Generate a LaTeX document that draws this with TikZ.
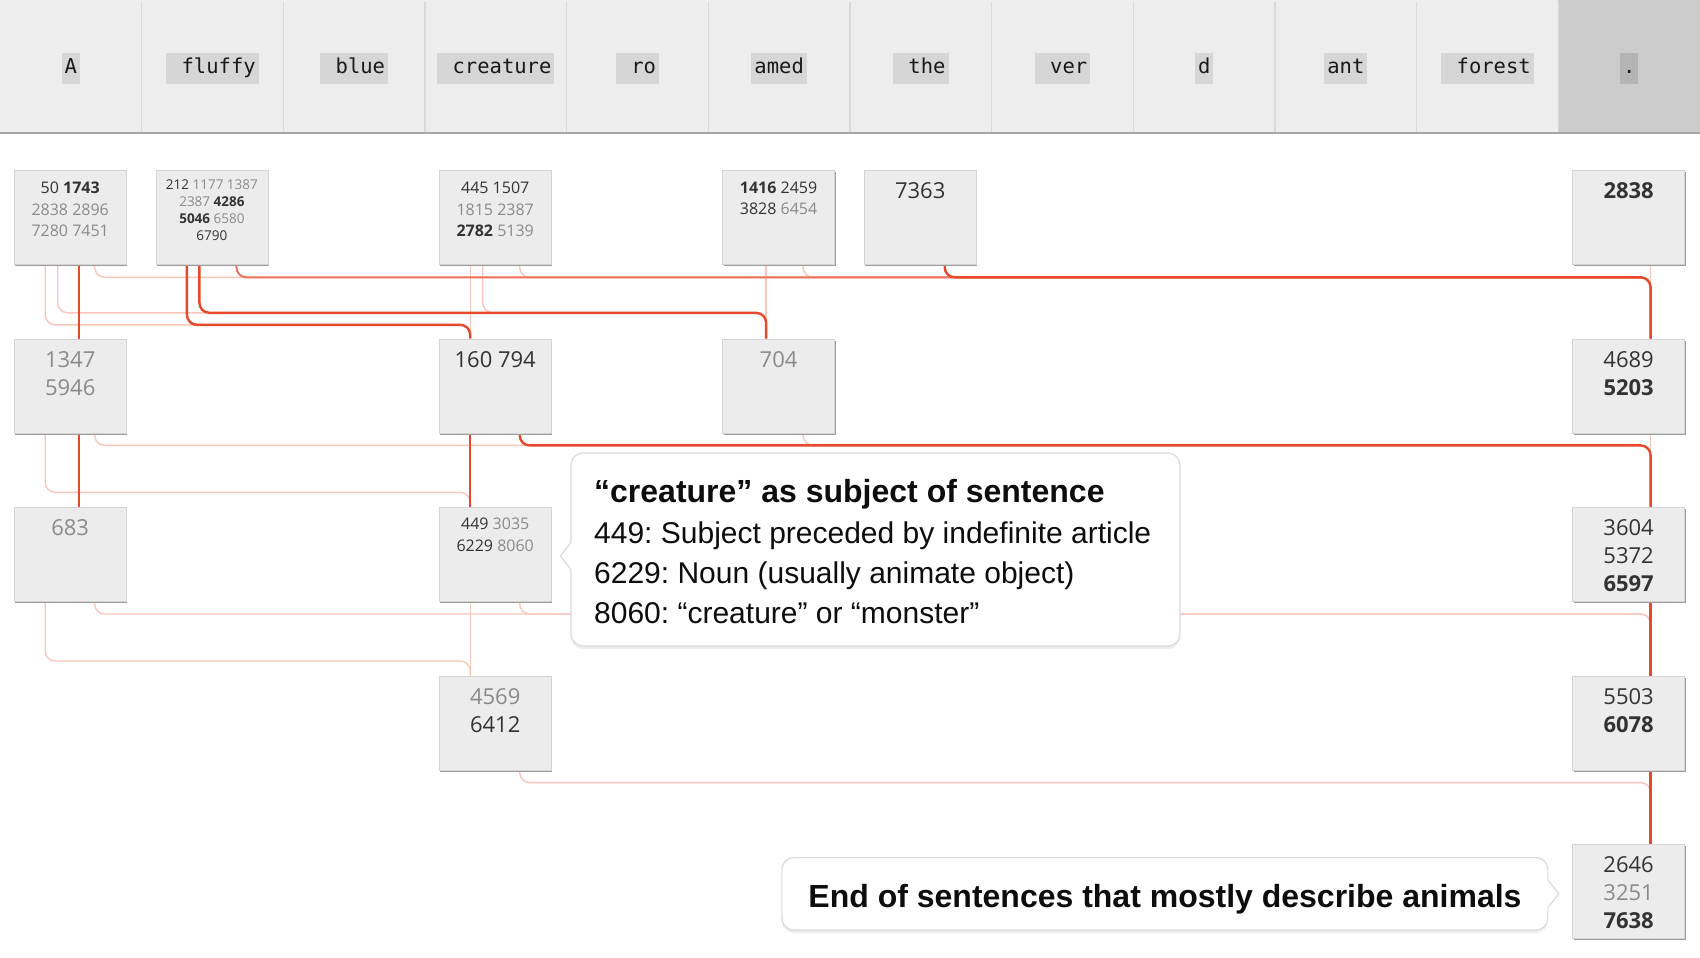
\documentclass[tikz,border=0pt]{standalone}
\usepackage{fontspec}
\setmainfont{Open Sans}
\newfontfamily\tokfont{DejaVu Sans Mono}
\newfontfamily\callfont{Liberation Sans}
\usetikzlibrary{calc,shadows}
\pgfdeclarelayer{bg}
\pgfsetlayers{bg,main}
\frenchspacing
\definecolor{hdrbg}{HTML}{EDEDED}
\definecolor{hdrlast}{HTML}{CCCCCC}
\definecolor{hdrline}{HTML}{D9D9D9}
\definecolor{hdrborder}{HTML}{A6A6A6}
\definecolor{tokbg}{HTML}{D6D6D6}
\definecolor{toklast}{HTML}{B4B4B4}
\definecolor{boxbg}{HTML}{ECECEC}
\definecolor{boxedge}{HTML}{D4D4D4}
\definecolor{boxshadow}{HTML}{9C9C9C}
\definecolor{numdark}{HTML}{333333}
\definecolor{numlight}{HTML}{8A8A8A}
\definecolor{strongc}{HTML}{E8492D}
\definecolor{medc}{HTML}{EE7259}
\definecolor{faintc}{HTML}{F8C6BB}
\definecolor{calledge}{HTML}{DADADA}
\newcommand\numL[1]{\textcolor{numlight}{#1}}
\newcommand\numB[1]{\textbf{#1}}
\begin{document}
\frenchspacing
\begin{tikzpicture}[x=1pt,y=-1pt,
  featbox/.style={rectangle, fill=boxbg, draw=boxedge, line width=0.8pt,
    minimum width=112pt, minimum height=94pt, inner sep=0pt, anchor=north,
    general shadow={fill=boxshadow, shadow xshift=1.2pt, shadow yshift=-1.6pt}},
  numbig/.style={anchor=north, inner sep=0pt, align=center, text=numdark,
    font=\fontsize{22}{28}\selectfont},
  nummed/.style={anchor=north, inner sep=0pt, align=center, text=numdark,
    font=\fontsize{16}{21.7}\selectfont},
  numsmall/.style={anchor=north, inner sep=0pt, align=center, text=numdark,
    font=\fontsize{13.5}{17}\selectfont},
  tok/.style={fill=tokbg, inner xsep=3pt, inner ysep=0pt, minimum height=30pt,
    text height=15.5pt, text depth=5pt, text=black!90,
    font=\tokfont\fontsize{20.5}{24}\selectfont},
  faint/.style={draw=faintc, line width=1.4pt, rounded corners=10pt},
  medium/.style={draw=medc, line width=1.9pt, rounded corners=10pt},
  strong/.style={draw=strongc, line width=2.4pt, rounded corners=10pt},
  callbox/.style={rectangle, fill=white, draw=calledge, line width=1.2pt,
    rounded corners=12pt, inner sep=0pt,
    general shadow={fill=black, fill opacity=0.07, shadow xshift=0pt, shadow yshift=-3pt}},
  calltitle/.style={inner sep=0pt, text=black!95, font=\callfont\bfseries\fontsize{32}{38}\selectfont},
  callline/.style={inner sep=0pt, text=black!95, font=\callfont\fontsize{30}{36}\selectfont},
]
\useasboundingbox (0,0) rectangle (1700,958);

% header
\begin{pgfonlayer}{bg}
\fill[white] (0,0) rectangle (1700,958);
\fill[hdrbg] (0,0) rectangle (1700,133);
\fill[hdrlast] (1558.33,0) rectangle (1700,133);
\foreach \k in {1,...,11} \draw[hdrline, line width=1.2pt] (141.667*\k,2) -- (141.667*\k,133);
\draw[hdrborder, line width=2pt] (0,133) -- (1700,133);
\end{pgfonlayer}

\node[tok] (t0) at (70.83,68.5) {A};
\node[tok] (t1) at (212.5,68.5) {\phantom{x}fluffy};
\node[tok] (t2) at (354.17,68.5) {\phantom{x}blue};
\node[tok] (t3) at (495.83,68.5) {\phantom{x}creature};
\node[tok] (t4) at (637.5,68.5) {\phantom{x}ro};
\node[tok] (t5) at (779.17,68.5) {amed};
\node[tok] (t6) at (920.83,68.5) {\phantom{x}the};
\node[tok] (t7) at (1062.5,68.5) {\phantom{x}ver};
\node[tok] (t8) at (1204.17,68.5) {d};
\node[tok] (t9) at (1345.83,68.5) {ant};
\node[tok] (t10) at (1487.5,68.5) {\phantom{x}forest};
\node[tok, fill=toklast] (t11) at (1629.17,68.5) {.};

% feature boxes
\node[featbox] (a0) at (70.2,170) {};
\node[featbox] (a1) at (211.9,170) {};
\node[featbox] (a3) at (495.2,170) {};
\node[featbox] (a5) at (778.6,170) {};
\node[featbox] (a6) at (920.2,170) {};
\node[featbox] (a11) at (1628.6,170) {};
\node[featbox] (b0) at (70.2,338.6) {};
\node[featbox] (b3) at (495.2,338.6) {};
\node[featbox] (b5) at (778.6,338.6) {};
\node[featbox] (b11) at (1628.6,338.6) {};
\node[featbox] (c0) at (70.2,507.2) {};
\node[featbox] (c3) at (495.2,507.2) {};
\node[featbox] (c11) at (1628.6,507.2) {};
\node[featbox] (d3) at (495.2,675.8) {};
\node[featbox] (d11) at (1628.6,675.8) {};
\node[featbox] (e11) at (1628.6,844.4) {};

% texts
\node[nummed] (a0t) at ($(a0.north)+(0,11.5)$) {50 \numB{1743}\\ \numL{2838 2896}\\ \numL{7280 7451}};
\node[numsmall] (a1t) at ($(a1.north)+(0,9.3)$) {212 \numL{1177 1387}\\ \numL{2387} \numB{4286}\\ \numB{5046} \numL{6580}\\ 6790};
\node[nummed] (a3t) at ($(a3.north)+(0,11.5)$) {445 1507\\ \numL{1815 2387}\\ \numB{2782} \numL{5139}};
\node[nummed] (a5t) at ($(a5.north)+(0,11.5)$) {\numB{1416} 2459\\ 3828 \numL{6454}};
\node[numbig] (a6t) at ($(a6.north)+(0,12.5)$) {7363};
\node[numbig] (a11t) at ($(a11.north)+(0,12.5)$) {\numB{2838}};
\node[numbig] (b0t) at ($(b0.north)+(0,12.5)$) {\numL{1347}\\ \numL{5946}};
\node[numbig] (b3t) at ($(b3.north)+(0,12.5)$) {160 794};
\node[numbig] (b5t) at ($(b5.north)+(0,12.5)$) {\numL{704}};
\node[numbig] (b11t) at ($(b11.north)+(0,12.5)$) {4689\\ \numB{5203}};
\node[numbig] (c0t) at ($(c0.north)+(0,12.5)$) {\numL{683}};
\node[nummed] (c3t) at ($(c3.north)+(0,10.8)$) {449 \numL{3035}\\ 6229 \numL{8060}};
\node[numbig] (c11t) at ($(c11.north)+(0,12.5)$) {3604\\ 5372\\ \numB{6597}};
\node[numbig] (d3t) at ($(d3.north)+(0,12.5)$) {\numL{4569}\\ 6412};
\node[numbig] (d11t) at ($(d11.north)+(0,12.5)$) {5503\\ \numB{6078}};
\node[numbig] (e11t) at ($(e11.north)+(0,12)$) {2646\\ \numL{3251}\\ \numB{7638}};

% connectors
\begin{pgfonlayer}{bg}
% faint
\draw[faint] ($(a0.south)+(-25,0)$) -- ++(0,60) -| ($(b3.north)+(-25,0)$);
\draw[faint] ($(a0.south)+(-12.5,0)$) -- ++(0,48) -| ($(b5.north)+(-12.5,0)$);
\draw[faint] ($(a0.south)+(24.5,0)$) -- ++(0,12.5) -| ($(b11.north)+(22,0)$);
\draw[faint] ($(a3.south)+(-25,0)$) -- ($(b3.north)+(-25,0)$);
\draw[faint] ($(a3.south)+(-12.5,0)$) -- ++(0,48) -| ($(b5.north)+(-12.5,0)$);
\draw[faint] ($(a3.south)+(24.5,0)$) -- ++(0,12.5) -| ($(b11.north)+(22,0)$);
\draw[faint] ($(a5.south)+(-12.5,0)$) -- ($(b5.north)+(-12.5,0)$);
\draw[faint] ($(a5.south)+(24.5,0)$) -- ++(0,12.5) -| ($(b11.north)+(22,0)$);
\draw[faint] ($(a11.south)+(22,0)$) -- ($(b11.north)+(22,0)$);
\draw[faint] ($(b0.south)+(-25,0)$) -- ++(0,59) -| ($(c3.north)+(-25,0)$);
\draw[faint] ($(b0.south)+(24.5,0)$) -- ++(0,12) -| ($(c11.north)+(22,0)$);
\draw[faint] ($(b5.south)+(24.5,0)$) -- ++(0,12) -| ($(c11.north)+(22,0)$);
\draw[faint] ($(b11.south)+(22,0)$) -- ($(c11.north)+(22,0)$);
\draw[faint] ($(c0.south)+(-25,0)$) -- ++(0,59) -| ($(d3.north)+(-25,0)$);
\draw[faint] ($(c0.south)+(24.5,0)$) -- ++(0,12) -| ($(d11.north)+(22,0)$);
\draw[faint] ($(c3.south)+(-25,0)$) -- ($(d3.north)+(-25,0)$);
\draw[faint] ($(c3.south)+(24.5,0)$) -- ++(0,12) -| ($(d11.north)+(22,0)$);
\draw[faint] ($(d3.south)+(24.5,0)$) -- ++(0,12) -| ($(e11.north)+(22,0)$);
% medium
\draw[medium] ($(a1.south)+(24.5,0)$) -- ++(0,12.5) -| ($(b11.north)+(22,0)$);
% strong
\draw[strong] ($(a0.south)+(8.5,0)$) -- ($(b0.north)+(8.5,0)$);
\draw[strong] ($(a1.south)+(-25,0)$) -- ++(0,60) -| ($(b3.north)+(-25,0)$);
\draw[strong] ($(a1.south)+(-12.5,0)$) -- ++(0,48) -| ($(b5.north)+(-12.5,0)$);
\draw[strong] ($(a6.south)+(24.5,0)$) -- ++(0,12.5) -| ($(b11.north)+(22,0)$);
\draw[strong] ($(b0.south)+(8.5,0)$) -- ($(c0.north)+(8.5,0)$);
\draw[strong] ($(b3.south)+(-25,0)$) -- ($(c3.north)+(-25,0)$);
\draw[strong] ($(b3.south)+(24.5,0)$) -- ++(0,12) -| ($(c11.north)+(22,0)$);
\draw[strong] ($(c11.south)+(22,0)$) -- ($(d11.north)+(22,0)$);
\draw[strong] ($(d11.south)+(22,0)$) -- ($(e11.north)+(22,0)$);
\end{pgfonlayer}

% callout 1
\node[callbox, minimum width=609pt, minimum height=193pt] (k1) at (875.5,549.5) {};
\fill[white] ($(k1.west)+(2,-6.5)$) -- ($(k1.west)+(0,-6.5)$) -- ($(k1.west)+(-10,6.5)$) -- ($(k1.west)+(0,19.5)$) -- ($(k1.west)+(2,19.5)$) -- cycle;
\draw[calledge, line width=1.2pt] ($(k1.west)+(0,-6.5)$) -- ($(k1.west)+(-10,6.5)$) -- ($(k1.west)+(0,19.5)$);
\node[calltitle, anchor=base west] (k1t) at (594,502.5) {“creature” as subject of sentence};
\node[callline, anchor=base west] (k1a) at (594,543) {449: Subject preceded by indefinite article};
\node[callline, anchor=base west] (k1b) at (594,583.2) {6229: Noun (usually animate object)};
\node[callline, anchor=base west] (k1c) at (594,623.3) {8060: “creature” or “monster”};

% callout 2
\node[callbox, minimum width=766pt, minimum height=72.4pt] (k2) at (1164.85,893.8) {};
\fill[white] ($(k2.east)+(-2,-13)$) -- ($(k2.east)+(0,-13)$) -- ($(k2.east)+(10.5,0)$) -- ($(k2.east)+(0,13)$) -- ($(k2.east)+(-2,13)$) -- cycle;
\draw[calledge, line width=1.2pt] ($(k2.east)+(0,-13)$) -- ($(k2.east)+(10.5,0)$) -- ($(k2.east)+(0,13)$);
\node[calltitle, anchor=base] (k2t) at (1165,907) {End of sentences that mostly describe animals};
\end{tikzpicture}
\end{document}
